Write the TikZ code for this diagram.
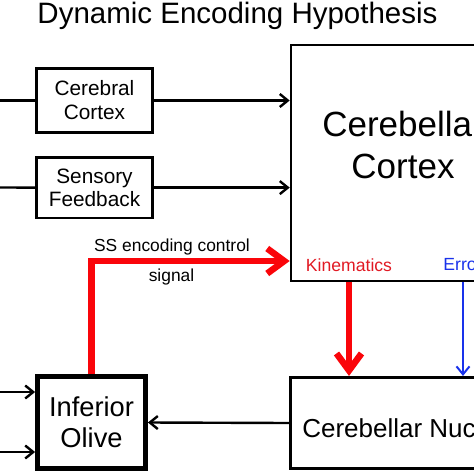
\documentclass[tikz,border=0pt]{standalone}
\usepackage{fontspec}
\setmainfont{Liberation Sans}
\usepackage{xcolor}
\usetikzlibrary{arrows.meta, positioning}
\definecolor{sigred}{RGB}{250,5,10}
\definecolor{kinred}{RGB}{225,25,35}
\definecolor{errblue}{RGB}{25,50,235}

\begin{document}
\begin{tikzpicture}[x=1pt, y=-1pt,
    box/.style={draw, line width=2.6pt, align=center, inner sep=0pt},
    lbl/.style={font=\fontsize{17.4}{19}\selectfont},
    wire/.style={line width=2.4pt},
    arr/.style={-{Straight Barb[length=8pt, width=13pt]}, line width=2.4pt},
    bigarr/.style={-{Straight Barb[length=17pt, width=25pt]}, line width=6.5pt, sigred}]
  \useasboundingbox (0,0) rectangle (474,474);
  \clip (0,0) rectangle (474,474);
  \node[font=\fontsize{29.5}{31}\selectfont] (title) at (237.5,16) {Dynamic Encoding Hypothesis};
  \node[box, minimum width=224pt, minimum height=236pt] (cortex) at (403,163) {};
  \node[font=\fontsize{35}{42}\selectfont, align=center] (cortextxt) at ([yshift=18.5pt]cortex.center) {Cerebellar\\Cortex};
  \node[box, minimum width=116.5pt, minimum height=64.5pt, font=\fontsize{20.8}{24}\selectfont] (cerebral) at (94.5,100.5) {Cerebral\\Cortex};
  \node[box, below=22pt of cerebral, minimum width=116.5pt, minimum height=60.5pt, font=\fontsize{20.8}{23}\selectfont] (sensory) {Sensory\\Feedback};
  \node[box, line width=4.8pt, minimum width=108pt, minimum height=92pt, font=\fontsize{27.3}{31}\selectfont] (olive) at (91.5,422.5) {Inferior\\Olive};
  \node[box, anchor=west, inner xsep=12pt, minimum height=91.5pt, text height=28pt, text depth=0pt, font=\fontsize{26}{28}\selectfont] (nuclei) at (289,423) {Cerebellar Nuclei};
  \node[font=\fontsize{17.6}{20}\selectfont, text=kinred] (kin) at (349,265) {Kinematics};
  \node[font=\fontsize{17.6}{20}\selectfont, text=errblue] (err) at (463,265) {Error};
  \node[lbl] (ctrl) at (172,247) {SS encoding control};
  \node[lbl] (ctrl2) at (171.5,277) {signal};
  \coordinate (in1) at (0,100.5);
  \coordinate (in2) at (0,187.5);
  \coordinate (in3) at (0,392);
  \coordinate (in4) at (0,452);
  \coordinate (bend) at (91.5,261);
  \draw[wire] (in1) -- (cerebral.west);
  \draw[wire] (in2) -- (sensory.west);
  \draw[arr] (cerebral.east) -- (cerebral.east -| cortex.west);
  \draw[arr] (sensory.east) -- (sensory.east -| cortex.west);
  \draw[arr] (in3) -- (in3 -| olive.west);
  \draw[arr] (in4) -- (in4 -| olive.west);
  \draw[arr] (nuclei.west) -- (olive.east);
  \draw[bigarr] (olive.north) |- (bend -| cortex.west);
  \draw[bigarr] (kin.south |- cortex.south) -- (kin.south |- nuclei.north);
  \draw[arr, errblue, line width=2pt] (err.south |- cortex.south) -- (err.south |- nuclei.north);
\end{tikzpicture}
\end{document}
